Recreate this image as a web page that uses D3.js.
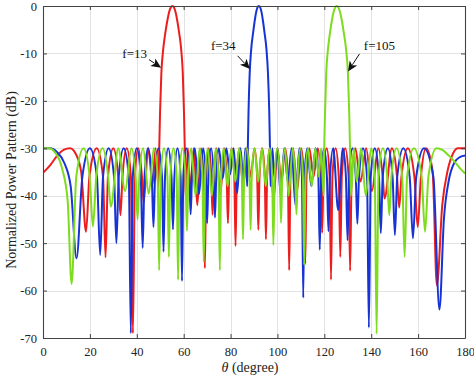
<!DOCTYPE html>
<html><head><meta charset="utf-8">
<script src="https://cdn.jsdelivr.net/npm/d3@7"></script>
<style>
body{margin:0;background:#fff}
text{font-family:"Liberation Serif","Times New Roman",serif}
</style>
</head><body><svg id="c" width="474" height="380"></svg>
<script>
// ---------------- data ----------------
const thetaTicks = [0,20,40,60,80,100,120,140,160,180];
const dbTicks = [0,-10,-20,-30,-40,-50,-60,-70];
const seriesNames = ["f=13","f=34","f=105"];

// [theta (deg), normalized power (dB)]
const f13 = [
[0,-35.2],[3,-33.6],[6,-31.6],[9,-30.3],[11.5,-30],[14,-31.2],[16.3,-35],[18.36,-47.6],
[19.8,-36],[22.9,-30],[25.6,-36],[26.68,-53],
[27.7,-36],[30.0,-30],[32.1,-36],[33.04,-44.1],
[33.9,-36],[35.7,-30],[37.5,-36],[38.35,-69],
[39.2,-36],[40.6,-30],[42.2,-36],[42.93,-41.5],
[44.85,-30],[46.77,-37.5],
[48.0,-30],[49.2,-38],
[49.58,-30],[49.93,-22.4],[50.48,-14.2],[51.28,-9.1],[52.23,-5.5],[53.06,-3.0],[53.77,-1.3],[54.48,-0.3],[55.18,0],[55.88,-0.3],[56.56,-1.3],[57.24,-3.0],[58.03,-5.5],[58.93,-9.1],[59.63,-14.2],[60.13,-22.4],[60.48,-30],[60.8,-40],
[61.8,-30],[62.8,-39],
[64.3,-30],[65.81,-42],
[67.4,-30],[68.5,-36],[69.04,-55.3],[69.6,-36],
[70.7,-30],[71.8,-36],[72.32,-44],[72.85,-36],
[74.0,-30],[75.61,-40],
[77.25,-30],[78.35,-36],[78.88,-45.8],[79.4,-36],
[80.5,-30],[81.6,-36],[82.13,-50.6],[82.65,-36],
[83.75,-30],[85.37,-38],
[87.0,-30],[88.61,-36],
[90.2,-30],[91.35,-36],[91.85,-47.2],[92.35,-36],
[93.5,-30],[94.6,-36],[95.09,-49.2],[95.6,-36],
[96.7,-30],[98.36,-41],
[100.0,-30],[101.66,-37],
[103.3,-30],[104.45,-36],[105.0,-55.7],[105.55,-36],
[106.7,-30],[108.39,-39],
[110.1,-30],[111.3,-36],[111.86,-54.4],[112.4,-36],
[113.6,-30],[115.4,-36],
[117.2,-30],[118.45,-36],[119.06,-47.8],[119.65,-36],
[121.0,-30],[122.25,-36],[122.85,-57.7],[123.45,-36],
[124.8,-30],[126.15,-36],[126.81,-52.9],[127.45,-36],
[128.9,-30],[130.35,-36],[130.99,-55.8],[131.65,-36],
[133.2,-30],[135.45,-37],
[137.85,-30],[140.28,-39],
[143.0,-30],[144.9,-36],[145.67,-40.6],
[148.8,-30],[151.0,-36],[151.93,-42.5],[152.9,-36],
[155.6,-30],[158.4,-36],[159.84,-46.6],[161.2,-36],
[163.4,-30],[166.2,-35],[168.0,-58.9],
[170.3,-42],[172.6,-34.7],[175,-31],[177,-30],[180,-30]
];

const f34 = [
[0,-30],[3,-30],[6,-30.8],[9,-33],[11.8,-38],[14.3,-53.2],
[16.8,-36],[20.0,-30],[23.0,-36],[24.4,-52.5],
[25.6,-36],[28.0,-30],[30.3,-36],[31.3,-50],
[32.3,-36],[34.4,-30],[36.6,-36],[37.46,-69],
[38.3,-36],[40.0,-30],[41.7,-36],[42.51,-51],
[43.3,-36],[44.8,-30],[46.4,-36],[47.12,-46.6],
[47.8,-36],[49.25,-30],[50.75,-36],[51.41,-51.8],
[52.05,-36],[53.4,-30],[54.8,-36],[55.44,-47.1],
[56.05,-36],[57.35,-30],[58.7,-36],[59.29,-58],
[59.85,-36],[61.1,-30],[62.4,-36],[62.98,-43.9],
[63.55,-36],[64.75,-30],[66.54,-39.7],
[68.3,-30],[69.45,-36],[70.0,-45.8],[70.55,-36],
[71.7,-30],[72.8,-36],[73.35,-44.6],[73.9,-36],
[75.0,-30],[76.63,-36.4],
[78.2,-30],[79.79,-35.5],
[81.3,-30],[82.81,-39.5],
[84.2,-30],[85.53,-37],
[86.3,-30],[87.1,-38],
[87.36,-30],[87.66,-22.4],[88.16,-14.2],[88.81,-9.1],[89.66,-5.5],[90.34,-3.0],[90.92,-1.3],[91.49,-0.3],[92.06,0],[92.64,-0.3],[93.21,-1.3],[93.78,-3.0],[94.46,-5.5],[95.31,-9.1],[95.96,-14.2],[96.51,-22.4],[96.81,-30],[97.05,-38],
[97.85,-30],[98.62,-36],
[100.0,-30],[101.37,-40],
[102.9,-30],[104.43,-37],
[106.05,-30],[107.66,-42],
[109.35,-30],[110.45,-36],[111.01,-61.5],[111.55,-36],
[112.75,-30],[114.46,-38],
[116.25,-30],[117.45,-36],[118.04,-51.4],[118.65,-36],
[119.9,-30],[121.1,-36],[121.76,-47.5],[122.4,-36],
[123.8,-30],[125.9,-43],
[127.9,-30],[129.2,-36],[129.9,-49.4],[130.6,-36],
[132.0,-30],[133.4,-36],[134.09,-45.9],[134.8,-36],
[136.5,-30],[138.2,-36],[139.0,-67.8],[139.8,-36],
[141.5,-30],[143.3,-36],[144.1,-47.9],[144.9,-36],
[147.1,-30],[149.1,-36],[150.1,-48.3],[151.1,-36],
[153.7,-30],[156.4,-36],[157.8,-49],[159.2,-36],
[162.5,-30],[166.5,-36],[169.1,-64],
[171,-45],[173,-37],[175.5,-33],[178,-31.8],[180,-31.5]
];

const f105 = [
[0,-30],[2.5,-30],[5,-30.8],[8,-34],[10.5,-41],[12.2,-58.6],
[14.2,-36],[17.3,-30],[19.9,-36],[21.3,-46.5],
[22.7,-36],[25.4,-30],[27.8,-36],[28.93,-42.3],
[32.1,-30],[35.04,-39],
[37.7,-30],[39.5,-36],[40.34,-45],[41.1,-36],
[42.7,-30],[45.12,-39.6],
[47.3,-30],[48.9,-36],[49.54,-55.7],[50.2,-36],
[51.6,-30],[53.05,-36],[53.69,-52.9],[54.3,-36],
[55.65,-30],[57.0,-36],[57.62,-57.7],[58.2,-36],
[59.5,-30],[60.8,-36],[61.4,-47.4],[62.0,-36],
[63.2,-30],[65.04,-40],
[66.8,-30],[68.0,-36],[68.57,-54],[69.15,-36],
[70.3,-30],[72.03,-40],
[73.7,-30],[74.85,-36],[75.42,-55.7],[76.0,-36],
[77.1,-30],[78.75,-38],
[80.4,-30],[82.04,-37],
[83.7,-30],[84.8,-36],[85.31,-49.2],[85.8,-36],
[86.9,-30],[88.05,-36],[88.56,-47.2],[89.05,-36],
[90.2,-30],[91.79,-37],
[93.4,-30],[95.03,-38],
[96.65,-30],[97.75,-36],[98.27,-50.4],[98.8,-36],
[99.9,-30],[101.0,-36],[101.53,-45.7],[102.05,-36],
[103.2,-30],[104.8,-40],
[106.45,-30],[107.55,-36],[108.1,-43.9],[108.65,-36],
[109.75,-30],[110.85,-36],[111.4,-54.6],[111.95,-36],
[113.0,-30],[114.63,-38],
[116.15,-30],[117.65,-36],
[118.6,-30],[119.7,-40],
[119.96,-30],[120.31,-22.4],[120.81,-14.2],[121.56,-9.1],[122.46,-5.5],[123.23,-3.0],[123.92,-1.3],[124.61,-0.3],[125.31,0],[126.02,-0.3],[126.72,-1.3],[127.45,-3.0],[128.26,-5.5],[129.26,-9.1],[130.06,-14.2],[130.61,-22.4],[130.96,-30],[131.35,-40],
[132.6,-30],[133.78,-37],
[135.7,-30],[137.66,-40],
[140.0,-30],[141.5,-36],[142.3,-69.1],[143.1,-36],
[145.0,-30],[146.8,-36],[147.71,-44.1],[148.6,-36],
[150.8,-30],[153.2,-36],[154.24,-52.9],[155.3,-36],
[158.2,-30],[161.5,-36],[162.95,-47.6],[164.4,-36],
[167.8,-30],[170.5,-30.4],[173,-31.5],[175.5,-32.8],[178,-34.3],[180,-35.3]
];

// annotation anchors in data units: text position, arrow start, arrow tip
const annoText = [[39.1,-10.9],[76.9,-9.3],[143.5,-9.3]];
const annoFrom = [[45.2,-11.3],[83.0,-10.5],[135.0,-10.1]];
const annoTo   = [[50.4,-13.0],[88.3,-13.3],[130.1,-13.8]];

// ---------------- chart ----------------
const W = 474, H = 380;
const m = {l:43, r:9, t:6, b:42};
const colors = ["#ee1d1d", "#1733d6", "#7edc1e"];

const svg = d3.select("#c");
const x = d3.scaleLinear().domain([0,180]).range([m.l, W - m.r]);
const y = d3.scaleLinear().domain([-70,0]).range([H - m.b, m.t]);

// grid
const grid = svg.append("g").attr("stroke","#e3e3e3").attr("stroke-width",1);
grid.selectAll("line.gx").data(thetaTicks.slice(1,-1)).join("line")
  .attr("x1",d=>Math.round(x(d))+0.5).attr("x2",d=>Math.round(x(d))+0.5)
  .attr("y1",y(0)).attr("y2",y(-70));
grid.selectAll("line.gy").data(dbTicks.slice(1,-1)).join("line")
  .attr("y1",d=>Math.round(y(d))+0.5).attr("y2",d=>Math.round(y(d))+0.5)
  .attr("x1",x(0)).attr("x2",x(180));

// clip
svg.append("clipPath").attr("id","clip").append("rect")
  .attr("x",x(0)).attr("y",y(0)-2).attr("width",x(180)-x(0)).attr("height",y(-70)-y(0)+2);

const line = d3.line().x(d=>x(d[0])).y(d=>y(d[1])).curve(d3.curveMonotoneX);
const g = svg.append("g").attr("clip-path","url(#clip)");
[f13, f34, f105].forEach((s,i)=>{
  g.append("path").datum(s).attr("d",line)
    .attr("fill","none").attr("stroke",colors[i]).attr("stroke-width",2)
    .attr("stroke-linejoin","round");
});

// axes
const axisColor = "#444";
const fmt = d=>String(d);
const ax = svg.append("g").attr("transform",`translate(0,${y(-70)})`)
  .call(d3.axisBottom(x).tickValues(thetaTicks).tickFormat(fmt).tickSizeInner(-4).tickSizeOuter(0).tickPadding(9));
const axT = svg.append("g").attr("transform",`translate(0,${y(0)})`)
  .call(d3.axisTop(x).tickValues(thetaTicks).tickFormat("").tickSizeInner(-4).tickSizeOuter(0));
const ay = svg.append("g").attr("transform",`translate(${x(0)},0)`)
  .call(d3.axisLeft(y).tickValues(dbTicks).tickFormat(fmt).tickSizeInner(-4).tickSizeOuter(0).tickPadding(6));
const ayR = svg.append("g").attr("transform",`translate(${x(180)},0)`)
  .call(d3.axisRight(y).tickValues(dbTicks).tickFormat("").tickSizeInner(-4).tickSizeOuter(0));
[ax,axT,ay,ayR].forEach(a=>{
  a.selectAll("path.domain").attr("stroke",axisColor).attr("stroke-width",1.1);
  a.selectAll(".tick line").attr("stroke",axisColor);
  a.selectAll(".tick text").attr("fill","#222").attr("font-size","12.5px")
    .attr("font-family",'"Liberation Serif","Times New Roman",serif');
});

// axis titles
svg.append("text")
  .attr("transform",`translate(16,${(y(0)+y(-70))/2+8}) rotate(-90)`)
  .attr("text-anchor","middle").attr("font-size","14px").attr("fill","#222")
  .text("Normalized Power Pattern (dB)");
const xt = svg.append("text")
  .attr("x",(x(0)+x(180))/2-4).attr("y",372)
  .attr("text-anchor","middle").attr("font-size","14px").attr("fill","#222");
xt.append("tspan").attr("font-style","italic").text("θ");
xt.append("tspan").text(" (degree)");

// annotations
const ann = svg.append("g");
seriesNames.forEach((name,i)=>{
  ann.append("text").attr("x",x(annoText[i][0])).attr("y",y(annoText[i][1]))
    .attr("text-anchor","middle").attr("font-size","13px").attr("fill","#111").text(name);
  const x0=x(annoFrom[i][0]), y0=y(annoFrom[i][1]), x1=x(annoTo[i][0]), y1=y(annoTo[i][1]);
  const dx=x1-x0, dy=y1-y0, L=Math.hypot(dx,dy), ux=dx/L, uy=dy/L;
  const hl=10, hw=4.5;
  const bx=x1-ux*hl, by=y1-uy*hl;
  ann.append("line").attr("x1",x0).attr("y1",y0).attr("x2",bx+ux*2).attr("y2",by+uy*2)
    .attr("stroke","#111").attr("stroke-width",1);
  const pts=[[x1,y1],[bx-uy*hw,by+ux*hw],[bx+ux*2.5,by+uy*2.5],[bx+uy*hw,by-ux*hw]];
  ann.append("polygon").attr("points",pts.map(p=>p.join(",")).join(" ")).attr("fill","#111");
});
</script>
</body></html>
